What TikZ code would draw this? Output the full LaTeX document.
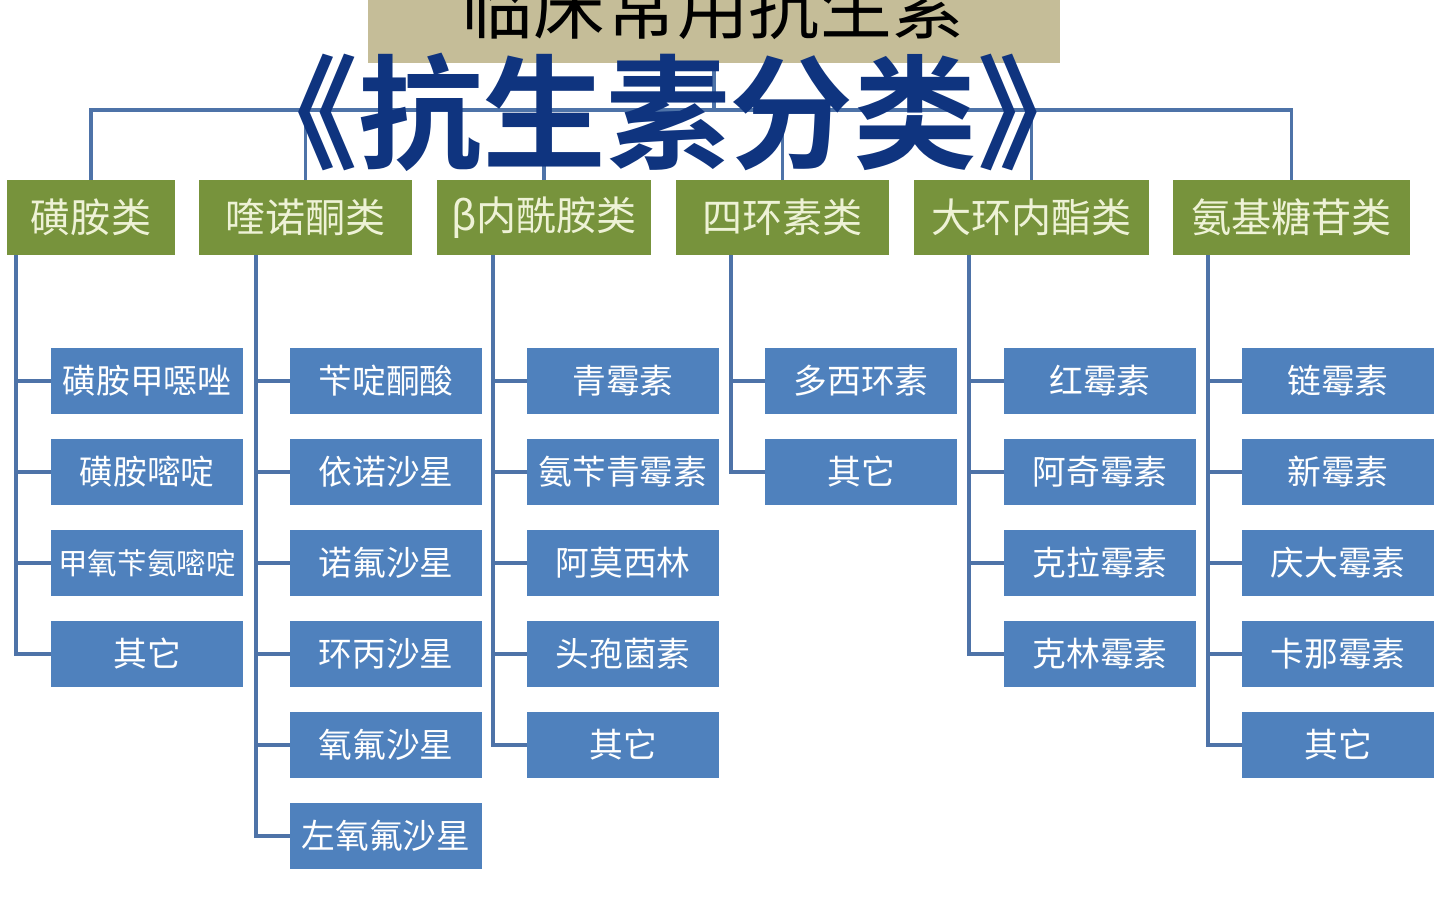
\documentclass[tikz,border=0pt]{standalone}
\usepackage{fontspec}
\newfontfamily\cjk{Noto Sans CJK SC}[BoldFont={Noto Sans CJK SC Bold}]
\usepackage{tikz}
\usetikzlibrary{positioning}

\definecolor{headtan}{HTML}{C5BD98}
\definecolor{catgreen}{HTML}{77933C}
\definecolor{cattext}{HTML}{EEF2D6}
\definecolor{drugblue}{HTML}{4F81BD}
\definecolor{linkblue}{HTML}{4E73A8}
\definecolor{titlenavy}{HTML}{0F347F}

\begin{document}
\begin{tikzpicture}[x=0.025cm, y=-0.025cm,
  cat/.style={fill=catgreen, text=cattext, inner sep=0, minimum height=1.875cm,
    font=\cjk\fontsize{28.5}{30}\selectfont},
  drug/.style={fill=drugblue, text=white, inner sep=0, minimum width=4.8cm,
    minimum height=1.65cm, font=\cjk\fontsize{24}{26}\selectfont},
  link/.style={draw=linkblue, line width=2.2pt}]
  \useasboundingbox (0,0) rectangle (1440,900);

  % header
  \node[fill=headtan, inner sep=0, minimum width=17.3cm, minimum height=1.575cm] (head) at (714,31.5) {};
  \begin{scope}
    \clip (0,0) rectangle (1440,900);
    \node[font=\cjk\fontsize{51}{52}\selectfont] (headtext) at (713,6) {临床常用抗生素};
  \end{scope}

  % classes
  \node[cat, minimum width=4.2cm]   (c1) at (91,217.5)   {磺胺类};
  \node[cat, minimum width=5.325cm] (c2) at (305.5,217.5) {喹诺酮类};
  \node[cat, minimum width=5.35cm]  (c3) at (544,217.5)  {β内酰胺类};
  \node[cat, minimum width=5.325cm] (c4) at (782.5,217.5) {四环素类};
  \node[cat, minimum width=5.875cm] (c5) at (1031.5,217.5) {大环内酯类};
  \node[cat, minimum width=5.925cm] (c6) at (1291.5,217.5) {氨基糖苷类};

  % drugs
  \foreach \name [count=\i] in {磺胺甲噁唑, 磺胺嘧啶, {{\fontsize{21}{22}\selectfont 甲氧苄氨嘧啶}}, 其它}
    \node[drug] (d1-\i) at (147,{290+91*\i}) {\name};
  \foreach \name [count=\i] in {苄啶酮酸, 依诺沙星, 诺氟沙星, 环丙沙星, 氧氟沙星, 左氧氟沙星}
    \node[drug] (d2-\i) at (386,{290+91*\i}) {\name};
  \foreach \name [count=\i] in {青霉素, 氨苄青霉素, 阿莫西林, 头孢菌素, 其它}
    \node[drug] (d3-\i) at (623,{290+91*\i}) {\name};
  \foreach \name [count=\i] in {多西环素, 其它}
    \node[drug] (d4-\i) at (861,{290+91*\i}) {\name};
  \foreach \name [count=\i] in {红霉素, 阿奇霉素, 克拉霉素, 克林霉素}
    \node[drug] (d5-\i) at (1100,{290+91*\i}) {\name};
  \foreach \name [count=\i] in {链霉素, 新霉素, 庆大霉素, 卡那霉素, 其它}
    \node[drug] (d6-\i) at (1338,{290+91*\i}) {\name};

  % tree lines
  \coordinate (bar) at (713,110);
  \draw[link] (head.south) -- (head.south |- bar);
  \draw[link] (c1.north) -- (c1.north |- bar) -- (c6.north |- bar) -- (c6.north);
  \foreach \c in {c2,c3,c4,c5}
    \draw[link] (\c.north) -- (\c.north |- bar);

  \coordinate (t1) at (16,255);
  \coordinate (t2) at (256,255);
  \coordinate (t3) at (493,255);
  \coordinate (t4) at (731,255);
  \coordinate (t5) at (969,255);
  \coordinate (t6) at (1208,255);
  \foreach \i in {1,...,4} \draw[link] (t1) |- (d1-\i.west);
  \foreach \i in {1,...,6} \draw[link] (t2) |- (d2-\i.west);
  \foreach \i in {1,...,5} \draw[link] (t3) |- (d3-\i.west);
  \foreach \i in {1,2}     \draw[link] (t4) |- (d4-\i.west);
  \foreach \i in {1,...,4} \draw[link] (t5) |- (d5-\i.west);
  \foreach \i in {1,...,5} \draw[link] (t6) |- (d6-\i.west);

  % title
  \node[text=titlenavy, font=\cjk\bfseries\fontsize{88}{90}\selectfont] (title) at (668,112) {《抗生素分类》};
\end{tikzpicture}
\end{document}
